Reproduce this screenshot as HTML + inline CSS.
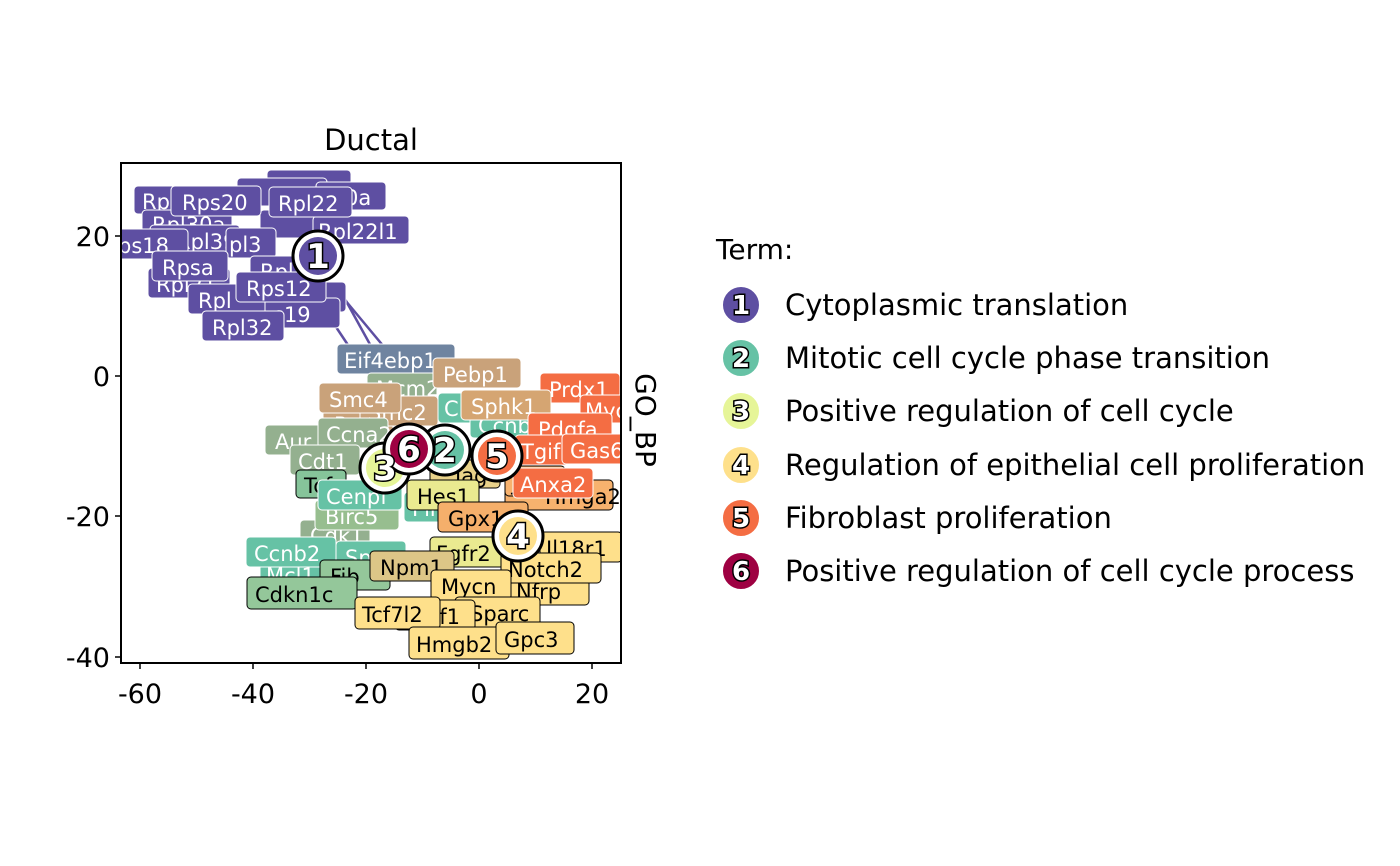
<!DOCTYPE html>
<html><head><meta charset="utf-8"><style>
body{margin:0;background:#fff}
svg{display:block;font-family:"DejaVu Sans","Liberation Sans",sans-serif}
.l rect{stroke:#fff;stroke-width:1}
.l text{font-size:21px;fill:#fff}
.d rect{stroke:#000;stroke-width:1}
.d text{font-size:21px;fill:#000}
.n{font-size:34px;font-weight:bold;fill:#fff;stroke:#000;stroke-width:3;paint-order:stroke;text-anchor:middle}
.ax{font-size:27px;fill:#000}
</style></head><body>
<svg width="1400" height="866" viewBox="0 0 1400 866">
<text x="371" y="150" class="ax" text-anchor="middle" style="font-size:29px">Ductal</text>
<defs><clipPath id="c"><rect x="121" y="163" width="500" height="500"/></clipPath></defs>
<g clip-path="url(#c)">
<g stroke="#5E4FA2" stroke-width="2.5"><line x1="340" y1="290" x2="372" y2="348"/><line x1="345" y1="300" x2="385" y2="348"/><line x1="330" y1="318" x2="350" y2="348"/></g>
<g class="l">
<rect x="267" y="170" width="84" height="28" rx="4" fill="#5E4FA2"/>
<rect x="237" y="178" width="90" height="28" rx="4" fill="#5E4FA2"/>
<rect x="316" y="182" width="70" height="28" rx="4" fill="#5E4FA2"/><text x="345" y="205">0a</text>
<rect x="134" y="186" width="70" height="28" rx="4" fill="#5E4FA2"/><text x="142" y="209">Rp</text>
<rect x="142" y="210" width="90" height="28" rx="4" fill="#5E4FA2"/><text x="152" y="232">Rpl30a</text>
<rect x="260" y="210" width="60" height="28" rx="4" fill="#5E4FA2"/>
<rect x="313" y="216" width="96" height="28" rx="4" fill="#5E4FA2"/><text x="318" y="239">Rpl22l1</text>
<rect x="171" y="186" width="90" height="30" rx="4" fill="#5E4FA2"/><text x="182" y="210">Rps20</text>
<rect x="269" y="187" width="83" height="30" rx="4" fill="#5E4FA2"/><text x="278" y="211">Rpl22</text>
<rect x="150" y="225" width="90" height="30" rx="4" fill="#5E4FA2"/><text x="176" y="249">Rpl39</text>
<rect x="226" y="228" width="50" height="30" rx="4" fill="#5E4FA2"/><text x="229" y="252">pl3</text>
<rect x="250" y="256" width="70" height="28" rx="4" fill="#5E4FA2"/><text x="260" y="279">Rpl</text>
<rect x="110" y="229" width="78" height="30" rx="4" fill="#5E4FA2"/><text x="118" y="253">ps18</text>
<rect x="148" y="268" width="82" height="30" rx="4" fill="#5E4FA2"/><text x="156" y="292">Rpl21</text>
<rect x="188" y="284" width="80" height="30" rx="4" fill="#5E4FA2"/><text x="198" y="308">Rpl</text>
<rect x="270" y="282" width="76" height="30" rx="4" fill="#5E4FA2"/>
<rect x="265" y="298" width="75" height="30" rx="4" fill="#5E4FA2"/><text x="273" y="322">s19</text>
<rect x="152" y="251" width="76" height="30" rx="4" fill="#5E4FA2"/><text x="162" y="275">Rpsa</text>
<rect x="236" y="272" width="90" height="30" rx="4" fill="#5E4FA2"/><text x="246" y="296">Rps12</text>
<rect x="202" y="311" width="82" height="30" rx="4" fill="#5E4FA2"/><text x="212" y="335">Rpl32</text>
<rect x="337" y="344" width="118" height="30" rx="4" fill="#6F84A0"/><text x="344" y="368">Eif4ebp1</text>
<rect x="367" y="373" width="70" height="28" rx="4" fill="#94B08F"/><text x="376" y="396">Mcm2</text>
<rect x="438" y="393" width="50" height="30" rx="4" fill="#66C2A5"/><text x="444" y="416">C</text>
<rect x="433" y="358" width="88" height="30" rx="4" fill="#C9A27A"/><text x="443" y="382">Pebp1</text>
<rect x="540" y="373" width="80" height="30" rx="4" fill="#F46D43"/><text x="549" y="397">Prdx1</text>
<rect x="580" y="395" width="60" height="28" rx="4" fill="#F46D43"/><text x="585" y="418">Myc</text>
<rect x="323" y="408" width="70" height="30" rx="4" fill="#C9A27A"/><text x="334" y="432">Ra</text>
<rect x="360" y="396" width="78" height="30" rx="4" fill="#C9A27A"/><text x="368" y="420">Smc2</text>
<rect x="319" y="383" width="82" height="30" rx="4" fill="#C9A27A"/><text x="329" y="407">Smc4</text>
<rect x="470" y="410" width="70" height="28" rx="4" fill="#66C2A5"/><text x="478" y="433">Ccnb1</text>
<rect x="461" y="390" width="90" height="30" rx="4" fill="#D5A572"/><text x="471" y="414">Sphk1</text>
<rect x="265" y="425" width="70" height="30" rx="4" fill="#94B08F"/><text x="275" y="449">Aur</text>
<rect x="318" y="418" width="70" height="30" rx="4" fill="#94B08F"/><text x="326" y="442">Ccna2</text>
<rect x="528" y="413" width="84" height="30" rx="4" fill="#F46D43"/><text x="538" y="437">Pdgfa</text>
<rect x="290" y="445" width="70" height="30" rx="4" fill="#94B08F"/><text x="298" y="469">Cdt1</text>
<rect x="515" y="435" width="60" height="30" rx="4" fill="#F46D43"/><text x="521" y="459">Tgif1</text>
<rect x="562" y="434" width="70" height="30" rx="4" fill="#F46D43"/><text x="570" y="458">Gas6</text>
</g>
<g class="d">
<rect x="296" y="470" width="50" height="28" rx="4" fill="#86C49A"/><text x="304" y="493">Tcf</text>
<rect x="430" y="460" width="70" height="28" rx="4" fill="#E9D28A"/><text x="455" y="483">Jag</text>
<rect x="505" y="480" width="108" height="30" rx="4" fill="#F7B26E"/><text x="545" y="504">Hmga2</text>
<rect x="505" y="466" width="60" height="30" rx="4" fill="#F7B26E"/><text x="512" y="490">Jun</text>
</g>
<g class="l">
<rect x="513" y="468" width="80" height="30" rx="4" fill="#F46D43"/><text x="520" y="492">Anxa2</text>
<rect x="300" y="520" width="70" height="28" rx="4" fill="#94B08F"/><text x="310" y="543">Cdk1</text>
<rect x="315" y="500" width="84" height="30" rx="4" fill="#97BE8F"/><text x="325" y="524">Birc5</text>
<rect x="404" y="492" width="70" height="30" rx="4" fill="#66C2A5"/><text x="412" y="516">Fln</text>
<rect x="318" y="480" width="84" height="30" rx="4" fill="#66C2A5"/><text x="326" y="504">Cenpf</text>
<rect x="260" y="560" width="70" height="28" rx="4" fill="#66C2A5"/><text x="266" y="583">Mcl1</text>
<rect x="246" y="537" width="90" height="30" rx="4" fill="#66C2A5"/><text x="254" y="561">Ccnb2</text>
<rect x="336" y="541" width="70" height="30" rx="4" fill="#66C2A5"/><text x="345" y="565">Sp</text>
</g>
<g class="d">
<rect x="320" y="560" width="70" height="30" rx="4" fill="#94C79A"/><text x="330" y="584">Fib</text>
<rect x="407" y="480" width="72" height="30" rx="4" fill="#EAEA90"/><text x="417" y="504">Hes1</text>
<rect x="438" y="502" width="90" height="30" rx="4" fill="#F5AF6B"/><text x="448" y="526">Gpx1</text>
<rect x="540" y="532" width="82" height="30" rx="4" fill="#FEE08B"/><text x="546" y="556">Il18r1</text>
<rect x="430" y="537" width="80" height="30" rx="4" fill="#EAEA90"/><text x="436" y="561">Fgfr2</text>
<rect x="509" y="575" width="80" height="30" rx="4" fill="#FEE08B"/><text x="516" y="599">Nfrp</text>
<rect x="501" y="553" width="100" height="30" rx="4" fill="#FEE08B"/><text x="508" y="577">Notch2</text>
<rect x="370" y="551" width="84" height="30" rx="4" fill="#DDC687"/><text x="380" y="575">Npm1</text>
<rect x="431" y="570" width="80" height="30" rx="4" fill="#FEE08B"/><text x="441" y="594">Mycn</text>
<rect x="247" y="577" width="110" height="32" rx="4" fill="#94C79A"/><text x="255" y="602">Cdkn1c</text>
<rect x="455" y="597" width="85" height="30" rx="4" fill="#FEE08B"/><text x="470" y="621">Sparc</text>
<rect x="395" y="600" width="80" height="30" rx="4" fill="#FEE08B"/><text x="404" y="624">Egrf1</text>
<rect x="355" y="597" width="85" height="32" rx="4" fill="#FEE08B"/><text x="362" y="622">Tcf7l2</text>
<rect x="409" y="627" width="100" height="32" rx="4" fill="#FEE08B"/><text x="416" y="652">Hmgb2</text>
<rect x="496" y="622" width="78" height="32" rx="4" fill="#FEE08B"/><text x="504" y="647">Gpc3</text>
</g>
<g stroke="#000" stroke-width="3">
<circle cx="318" cy="256" r="25" fill="#fff"/><circle cx="318" cy="256" r="19" fill="#5E4FA2" stroke="none"/>
<circle cx="385" cy="468" r="25" fill="#fff"/><circle cx="385" cy="468" r="19" fill="#E6F598" stroke="none"/>
<circle cx="445" cy="450" r="25" fill="#fff"/><circle cx="445" cy="450" r="19" fill="#66C2A5" stroke="none"/>
<circle cx="409" cy="449" r="25" fill="#fff"/><circle cx="409" cy="449" r="19" fill="#9E0142" stroke="none"/>
<circle cx="497" cy="456" r="25" fill="#fff"/><circle cx="497" cy="456" r="19" fill="#F46D43" stroke="none"/>
<circle cx="518" cy="536" r="25" fill="#fff"/><circle cx="518" cy="536" r="19" fill="#FEE08B" stroke="none"/>
</g>
<text class="n" x="318" y="268">1</text><text class="n" x="385" y="480">3</text><text class="n" x="445" y="462">2</text>
<text class="n" x="409" y="461">6</text><text class="n" x="497" y="468">5</text><text class="n" x="518" y="548">4</text>
</g>
<rect x="121" y="163" width="500" height="500" fill="none" stroke="#000" stroke-width="2"/>
<g stroke="#000" stroke-width="1.5"><line x1="115" y1="236" x2="121" y2="236"/><line x1="115" y1="376" x2="121" y2="376"/><line x1="115" y1="516" x2="121" y2="516"/><line x1="115" y1="657" x2="121" y2="657"/>
<line x1="140" y1="663" x2="140" y2="669"/><line x1="253" y1="663" x2="253" y2="669"/><line x1="366" y1="663" x2="366" y2="669"/><line x1="479" y1="663" x2="479" y2="669"/><line x1="592" y1="663" x2="592" y2="669"/></g>
<g class="ax" text-anchor="end"><text x="110" y="246">20</text><text x="110" y="386">0</text><text x="110" y="526">-20</text><text x="110" y="667">-40</text></g>
<g class="ax" text-anchor="middle"><text x="140" y="703">-60</text><text x="253" y="703">-40</text><text x="366" y="703">-20</text><text x="479" y="703">0</text><text x="592" y="703">20</text></g>
<text class="ax" transform="translate(636,420) rotate(90)" text-anchor="middle" style="font-size:28px">GO_BP</text>
<text class="ax" x="716" y="259" style="font-size:28px">Term:</text>
<g stroke="#fff" stroke-width="2"><circle cx="741" cy="305" r="19" fill="#5E4FA2"/><circle cx="741" cy="358" r="19" fill="#66C2A5"/><circle cx="741" cy="411" r="19" fill="#E6F598"/><circle cx="741" cy="465" r="19" fill="#FEE08B"/><circle cx="741" cy="518" r="19" fill="#F46D43"/><circle cx="741" cy="571" r="19" fill="#9E0142"/></g>
<g class="n" style="font-size:26px"><text x="741" y="314">1</text><text x="741" y="367">2</text><text x="741" y="420">3</text><text x="741" y="474">4</text><text x="741" y="527">5</text><text x="741" y="580">6</text></g>
<g class="ax" style="font-size:29px"><text x="785" y="315">Cytoplasmic translation</text><text x="785" y="368">Mitotic cell cycle phase transition</text><text x="785" y="421">Positive regulation of cell cycle</text><text x="785" y="475">Regulation of epithelial cell proliferation</text><text x="785" y="528">Fibroblast proliferation</text><text x="785" y="581">Positive regulation of cell cycle process</text></g>
</svg>
</body></html>
